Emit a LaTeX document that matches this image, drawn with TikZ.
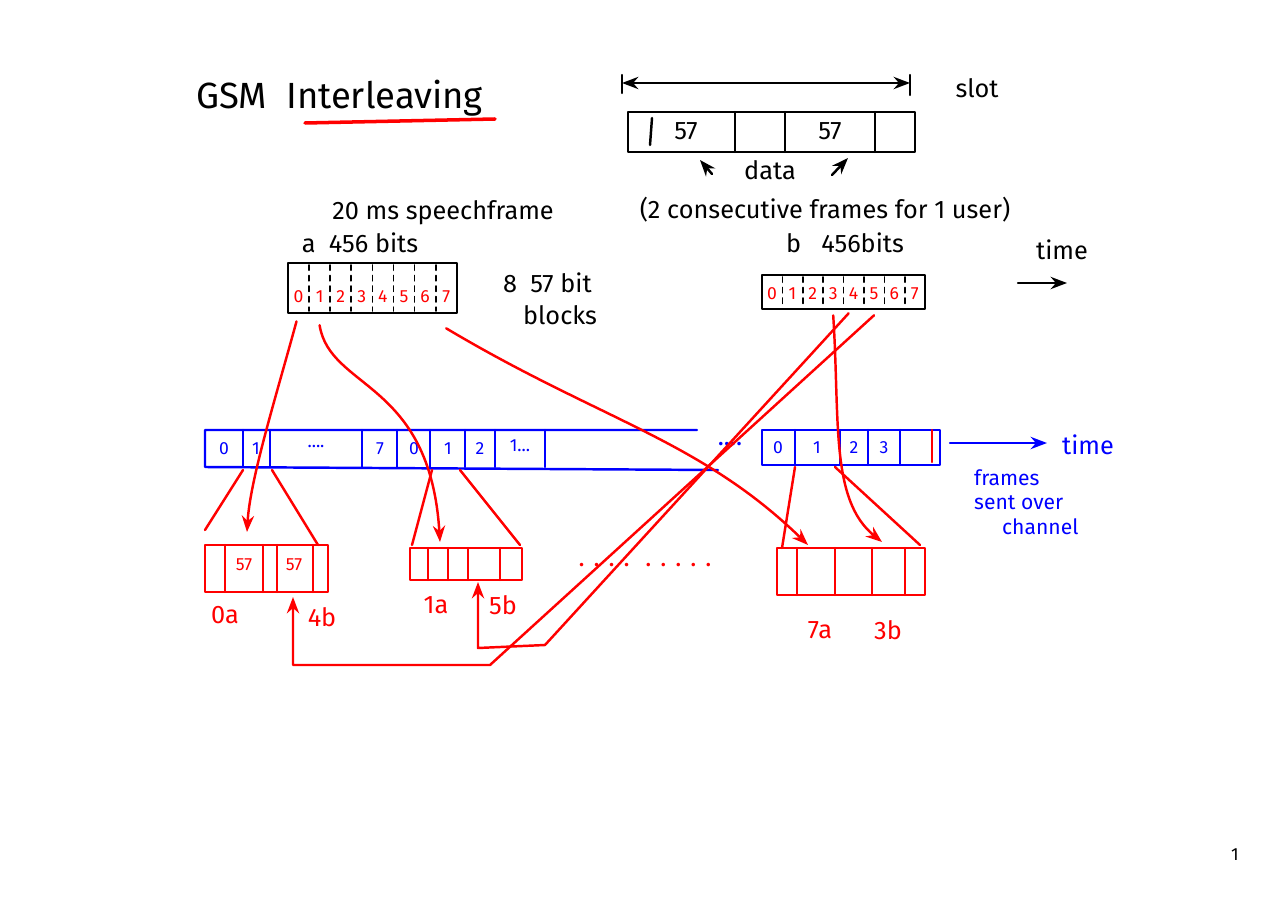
\documentclass[tikz,border=0pt]{standalone}
\usepackage{fontspec}
\setmainfont{Fira Sans}
\usetikzlibrary{arrows.meta}

\tikzset{
  ink/.style={line width=1.4pt,line cap=round,line join=round},
  redink/.style={ink,red},
  blueink/.style={ink,blue},
  lbl/.style={font=\Large},
  cellnum/.style={font=\normalsize,inner sep=0pt},
}

\begin{document}
\begin{tikzpicture}[x=0.02cm,y=-0.02cm]
\useasboundingbox (0,0) rectangle (1280,905);

% title and slot
\node[anchor=west,font=\huge] (title) at (190,98) {GSM \ Interleaving};
\draw[redink,line width=2pt] (305,123) -- (495,119);
\coordinate (sL) at (622,83);
\coordinate (sR) at (910,83);
\draw[ink,{Stealth}-{Stealth}] (sL) -- (sR);
\draw[ink] (622,75) -- (622,93) (910,75) -- (910,95);
\node[lbl] (slot) at (977,88) {slot};
\draw[ink] (628,112) rectangle (915,152);
\foreach \x in {735,785,875} \draw[ink] (\x,112) -- (\x,152);
\draw[ink] (652,118) -- (650,145);
\node[lbl] (d1) at (686,131) {57};
\node[lbl] (d2) at (830,131) {57};
\node[lbl] (data) at (770,170) {data};
\draw[ink,-{Stealth}] (712,174) -- (700,160);
\draw[ink,-{Stealth}] (832,175) -- (848,158);

\node[lbl] (speech) at (443,213) {20 ms speechframe};
\node[lbl] (cons) at (825,210) {(2 consecutive frames for 1 user)};
\node[lbl] (aname) at (360,243) {a \ 456 bits};
\node[lbl] (bname) at (845,243) {b \ \ 456bits};
\node[lbl] (time1) at (1062,250) {time};
\draw[ink,-{Stealth}] (1018,283) -- (1067,283);

% speech frame a
\draw[ink] (288,263) rectangle (457,313);
\foreach \i in {1,...,7} \draw[ink,dashed,line width=1pt] (288+\i*21.1,265) -- (288+\i*21.1,311);
\foreach \i in {0,...,7} \node[cellnum,red] (a\i) at (298.5+\i*21.1,297) {\i};
\node[lbl,align=left] (blocks) at (550,299) {8 \ 57 bit\\ \ \ \ blocks};

% speech frame b
\draw[ink] (762,275) rectangle (925,309);
\foreach \i in {1,...,7} \draw[ink,dashed,line width=1pt] (762+\i*20.4,277) -- (762+\i*20.4,307);
\foreach \i in {0,...,7} \node[cellnum,red] (b\i) at (772+\i*20.4,294) {\i};

% frames on the channel
\draw[blueink] (205,430) -- (697,430) (205,467) -- (718,470) (205,430) -- (205,467);
\foreach \x in {243,270,362,397,430,465,495,545} \draw[blueink] (\x,430) -- (\x,467);
\foreach \t/\x in {0/224,1/256,7/380,0/414,1/448,2/480}
  \node[cellnum,blue] at (\x,449) {\t};
\node[cellnum,blue] at (316,446) {....};
\node[cellnum,blue] at (520,446) {1...};
\node[lbl,blue] (gap) at (730,444) {....};
\draw[blueink] (762,430) rectangle (940,465);
\foreach \x in {795,840,868,900} \draw[blueink] (\x,430) -- (\x,465);
\draw[redink] (932,430) -- (932,462);
\foreach \t/\x in {0/778,1/817,2/854,3/884} \node[cellnum,blue] at (\x,448) {\t};
\draw[blueink,-{Stealth}] (950,443) -- (1047,443);
\node[lbl,blue] (time2) at (1088,445) {time};
\node[blue,align=left,font=\large,anchor=north west] (sent) at (968,463) {frames\\sent over\\\ \ \ \ \ channel};

% bursts
\draw[redink] (205,545) rectangle (328,592);
\foreach \x in {225,263,277,313} \draw[redink] (\x,545) -- (\x,592);
\node[cellnum,red] (c57a) at (244,565) {57};
\node[cellnum,red] (c57b) at (294,565) {57};
\draw[redink] (410,548) rectangle (522,580);
\foreach \x in {428,448,468,500} \draw[redink] (\x,548) -- (\x,580);
\draw[redink] (777,548) rectangle (925,595);
\foreach \x in {797,835,872,905} \draw[redink] (\x,548) -- (\x,595);
\node[lbl,red] (l0a) at (225,615) {0a};
\node[lbl,red] (l4b) at (322,617) {4b};
\node[lbl,red] (l1a) at (436,605) {1a};
\node[lbl,red] (l5b) at (503,605) {5b};
\node[lbl,red] (dots) at (645,565) {. . . . \ . . . . .};
\node[lbl,red] (l7a) at (820,630) {7a};
\node[lbl,red] (l3b) at (888,630) {3b};

% burst funnels
\draw[redink] (243,470) -- (205,530) (272,470) -- (318,545);
\draw[redink] (432,470) -- (412,545) (460,470) -- (520,545);
\draw[redink] (795,467) -- (782,548) (835,467) -- (920,545);

% where the blocks go
\coordinate (t0a) at (247,532);
\coordinate (t1a) at (440,542);
\coordinate (t7a) at (808,545);
\coordinate (t3b) at (882,542);
\draw[redink,-{Stealth}] (a0.south) ++(-2,18) .. controls (275,400) and (250,480) .. (t0a);
\draw[redink,-{Stealth}] (a1.south) ++(0,22) .. controls (330,390) and (430,380) .. (t1a);
\draw[redink,-{Stealth}] (a7.south) ++(0,25) .. controls (600,420) and (700,440) .. (t7a);
\draw[redink,-{Stealth}] (b3.south) ++(0,15) .. controls (840,420) and (830,500) .. (t3b);
\draw[redink,-{Stealth}] (b4.south) ++(-5,13) -- (545,645) -- (478,648) -- (478,582);
\draw[redink,-{Stealth}] (b5.south) ++(0,15) -- (490,665) -- (293,665) -- (293,597);

\node (page) at (1235,855) {1};
\end{tikzpicture}
\end{document}
